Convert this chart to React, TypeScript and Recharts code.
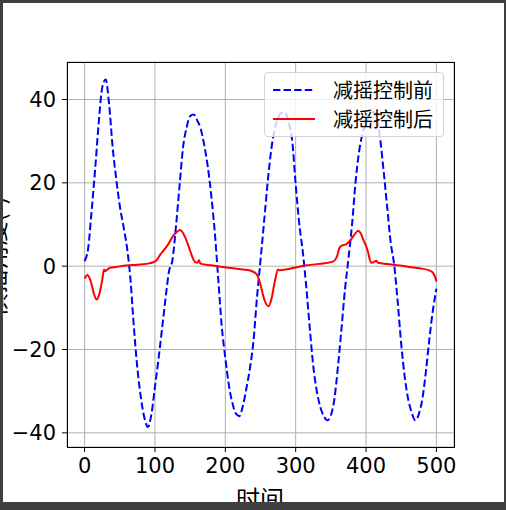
import React from 'react';
import {
  LineChart,
  Line,
  XAxis,
  YAxis,
  CartesianGrid,
  Legend
} from 'recharts';

// 减摇控制前 (dashed blue)
const beforeTime = [
  0, 5, 10, 15, 20, 25, 30, 35, 40, 45, 50, 55, 60, 65, 70, 75, 80, 85, 90, 95,
  100, 105, 110, 115, 120, 125, 130, 135, 140, 145, 150, 155, 160, 165, 170, 175, 180, 185, 190, 195,
  200, 205, 210, 215, 220, 225, 230, 235, 240, 245, 250, 255, 260, 265, 270, 275, 280, 285, 290, 295,
  300, 305, 310, 315, 320, 325, 330, 335, 340, 345, 350, 355, 360, 365, 370, 375, 380, 385, 390, 395,
  400, 405, 410, 415, 420, 425, 430, 435, 440, 445, 450, 455, 460, 465, 470, 475, 480, 485, 490, 495,
  500
];
const beforeAngle = [
  1.2, 4.2, 13.3, 23.3, 34.3, 42.8, 44.8, 38.6, 28.3, 20.9, 14.5, 9.8, 4.8, -2.8, -14.5, -24.5, -31.5, -36.4, -38.6, -35.5,
  -29.0, -22.3, -15.2, -7.8, -1.2, 1.6, 9.8, 19.4, 28.6, 33.3, 36.0, 36.4, 35.0, 33.0, 29.1, 24.0, 17.0, 8.2, -3.2, -14.6,
  -22.0, -28.5, -32.8, -35.4, -36.0, -33.5, -29.3, -24.5, -18.0, -7.5, 1.4, 10.5, 19.8, 27.6, 32.7, 35.6, 36.8, 36.9, 34.5, 30.2,
  19.6, 10.3, 3.6, -4.9, -14.8, -24.0, -30.0, -33.8, -36.0, -37.0, -35.8, -31.9, -24.2, -15.2, -5.7, 1.8, 9.8, 20.0, 27.4, 31.8,
  34.3, 36.5, 37.0, 36.0, 30.7, 22.8, 14.3, 5.7, 0.3, -8.6, -18.7, -26.6, -32.0, -35.2, -37.0, -35.5, -31.9, -25.4, -17.5, -10.6,
  -5.4
];

// 减摇控制后 (solid red)
const afterTime = [
  0, 4, 7, 10, 13, 17, 19, 21.5, 25, 27.6, 29, 31, 36, 45, 59, 75, 88, 100, 104, 108,
  112, 119, 126, 131, 135.6, 139, 143, 150, 154, 157, 160, 162.6, 164, 166, 180, 195, 211, 225, 235, 244,
  248, 251.3, 256, 261.6, 265.5, 270.2, 275, 277, 291.5, 312.8, 334, 353, 357, 359, 362, 365, 372, 379, 384, 388.6,
  392, 395.7, 402.8, 405.5, 407.6, 410, 414.7, 417, 430, 447.8, 462, 476, 490.5, 495.2, 498, 500
];
const afterAngle = [
  -3.0, -2.1, -2.8, -4.4, -6.5, -8.0, -7.6, -6.3, -3.4, -0.8, -1.2, -1.0, -0.4, -0.2, 0.15, 0.35, 0.55, 1.1, 1.8, 2.9,
  3.7, 5.3, 7.3, 8.2, 8.7, 8.2, 6.9, 3.7, 1.8, 1.0, 0.8, 1.4, 0.8, 0.55, 0.2, -0.2, -0.5, -0.8, -1.05, -1.8,
  -3.2, -5.4, -8.3, -9.6, -7.9, -3.8, -0.8, -1.0, -0.6, 0.15, 0.55, 1.1, 1.75, 2.5, 4.3, 4.9, 5.3, 6.5, 7.7, 8.5,
  8.0, 6.5, 3.4, 1.5, 0.8, 0.9, 1.3, 0.8, 0.5, 0.15, -0.2, -0.5, -1.06, -1.6, -2.5, -3.7
];

const xTicks = [0, 100, 200, 300, 400, 500];
const yTicks = [-40, -20, 0, 20, 40];
const seriesNames = ['减摇控制前', '减摇控制后'];
const seriesColors = ['#0000ff', '#ff0000'];
const xLabel = '时间';
const yLabel = '横摇角度(°)';

const beforeData = beforeTime.map((t, i) => ({ t, v: beforeAngle[i] }));
const afterData = afterTime.map((t, i) => ({ t, v: afterAngle[i] }));

const TICK_FONT = '"DejaVu Sans", "Noto Sans CJK SC", sans-serif';
const CJK_FONT = '"Noto Sans CJK SC", "DejaVu Sans", sans-serif';
const DASH = '7.4 3.2';

const fmtY = (v: number) => (v < 0 ? '\u2212' + Math.abs(v) : String(v));

const renderLegend = () => (
  <div
    style={{
      width: 180,
      height: 65,
      boxSizing: 'border-box',
      border: '1px solid #d4d4d4',
      borderRadius: 4,
      background: 'rgba(255,255,255,0.8)',
      position: 'relative',
      fontFamily: CJK_FONT,
      fontSize: 20,
      color: '#000'
    }}
  >
    {seriesNames.map((name, i) => (
      <div
        key={name}
        style={{ position: 'absolute', left: 0, top: 2.7 + i * 29.3, height: 28, display: 'flex', alignItems: 'center' }}
      >
        <svg width={60} height={28} style={{ display: 'block' }}>
          <line
            x1={8}
            x2={50}
            y1={14}
            y2={14}
            stroke={seriesColors[i]}
            strokeWidth={2}
            strokeDasharray={i === 0 ? DASH : undefined}
          />
        </svg>
        <span style={{ marginLeft: 8, lineHeight: '28px', whiteSpace: 'nowrap' }}>{name}</span>
      </div>
    ))}
  </div>
);

const frame = '#404040';

export default function App() {
  return (
    <div style={{ position: 'absolute', left: 0, top: 0, width: 506, height: 510, background: '#fff', overflow: 'hidden' }}>
      <LineChart width={506} height={510} margin={{ top: 62, right: 52, bottom: 0, left: 0 }}>
        <CartesianGrid stroke="#b0b0b0" strokeWidth={1} />
        <XAxis
          type="number"
          dataKey="t"
          domain={[-25, 525]}
          ticks={xTicks}
          allowDataOverflow
          height={63}
          axisLine={false}
          tickLine={{ stroke: '#000' }}
          tickSize={5}
          tickMargin={6}
          tick={{ fill: '#000', fontSize: 21, fontFamily: TICK_FONT }}
        />
        <YAxis
          type="number"
          domain={[-43.4, 49]}
          ticks={yTicks}
          allowDataOverflow
          width={67}
          axisLine={false}
          tickLine={{ stroke: '#000' }}
          tickSize={5}
          tickMargin={6}
          tickFormatter={fmtY}
          tick={{ fill: '#000', fontSize: 21, fontFamily: TICK_FONT }}
        />
        <Line
          data={beforeData}
          dataKey="v"
          name={seriesNames[0]}
          type="monotone"
          stroke={seriesColors[0]}
          strokeWidth={2}
          strokeDasharray={DASH}
          dot={false}
          activeDot={false}
          isAnimationActive={false}
        />
        <Line
          data={afterData}
          dataKey="v"
          name={seriesNames[1]}
          type="monotone"
          stroke={seriesColors[1]}
          strokeWidth={2}
          dot={false}
          activeDot={false}
          isAnimationActive={false}
        />
        <Legend
          layout="vertical"
          align="center"
          verticalAlign="middle"
          content={renderLegend}
          wrapperStyle={{ left: 264, top: 72, right: 'auto', bottom: 'auto', width: 180, height: 65 }}
        />
      </LineChart>

      {/* axes frame */}
      <div
        style={{
          position: 'absolute',
          left: 67,
          top: 62,
          width: 388,
          height: 386,
          boxSizing: 'border-box',
          border: '1px solid #000',
          pointerEvents: 'none'
        }}
      />

      {/* axis titles */}
      <div
        style={{
          position: 'absolute',
          left: 200,
          top: 486,
          width: 120,
          textAlign: 'center',
          fontFamily: CJK_FONT,
          fontSize: 24,
          lineHeight: 1,
          color: '#000'
        }}
      >
        {xLabel}
      </div>
      <div
        style={{
          position: 'absolute',
          left: -70,
          top: 245,
          width: 130,
          height: 24,
          textAlign: 'center',
          fontFamily: CJK_FONT,
          fontSize: 24,
          lineHeight: 1,
          color: '#000',
          transform: 'rotate(-90deg)'
        }}
      >
        {yLabel}
      </div>

      {/* window border */}
      <div style={{ position: 'absolute', left: 0, top: 0, width: 506, height: 3, background: frame }} />
      <div style={{ position: 'absolute', left: 0, top: 0, width: 3, height: 510, background: frame }} />
      <div style={{ position: 'absolute', left: 504, top: 0, width: 2, height: 510, background: frame }} />
      <div style={{ position: 'absolute', left: 0, top: 502, width: 506, height: 8, background: frame }} />
    </div>
  );
}
